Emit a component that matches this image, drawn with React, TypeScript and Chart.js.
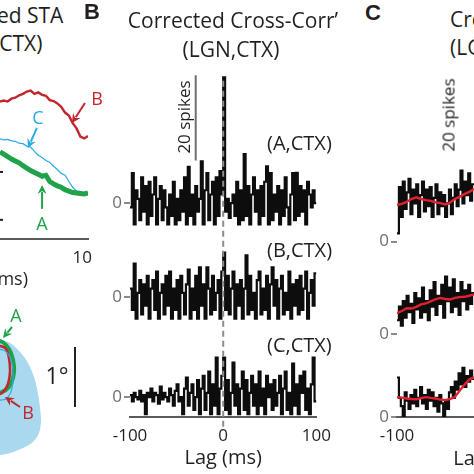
import React, { useEffect, useRef } from "react";
import { Chart, registerables } from "chart.js";

Chart.register(...registerables);

const FONT = '"Open Sans", "Noto Sans", sans-serif';
const BOLD_FONT = '"Liberation Sans", Arial, sans-serif';
const INK = "#231f20";
const GREY = "#6d6e71";
const RED_B = "#c1272d";
const BLUE_C = "#29abe2";
const GREEN_A = "#1fa24a";
const RED_FIT = "#e5202e";
const RF_FILL = "#a9d8ef";
const TRACE = "#0d0d0d";

// ---------- Panel A: spike-triggered averages ----------
const STA_TIME = [5.7, 5.9, 6.1, 6.3, 6.5, 6.7, 6.9, 7.1, 7.3, 7.5, 7.7, 7.9, 8.1, 8.3, 8.5, 8.7, 8.9, 9.1, 9.3, 9.5, 9.7, 9.9, 10.1, 10.3];
const STA_B = [2.47, 2.49, 2.47, 2.53, 2.55, 2.6, 2.63, 2.68, 2.7, 2.63, 2.66, 2.61, 2.59, 2.5, 2.48, 2.43, 2.36, 2.24, 2.18, 2.02, 1.91, 1.74, 1.7, 1.75];
const STA_C = [1.69, 1.67, 1.68, 1.65, 1.64, 1.6, 1.59, 1.54, 1.52, 1.43, 1.35, 1.3, 1.24, 1.2, 1.12, 1.05, 0.97, 0.93, 0.8, 0.68, 0.6, 0.59, 0.54, 0.57];
const STA_A = [1.42, 1.37, 1.32, 1.27, 1.23, 1.19, 1.13, 1.08, 1.03, 0.99, 0.95, 0.91, 0.93, 0.8, 0.75, 0.71, 0.68, 0.63, 0.6, 0.57, 0.56, 0.55, 0.54, 0.56];
const STA_X_TICKS = [10];
const STA_Y_TICKS = [0, 1];

// ---------- Panel A: receptive field outlines (degrees) ----------
const RF_FIELD = [[-0.5, 2.3], [0, 2.233], [0.167, 2.183], [0.333, 2.033], [0.467, 1.85], [0.583, 1.567], [0.65, 1.233], [0.683, 0.9], [0.65, 0.683], [0.55, 0.533], [0.383, 0.433], [0.167, 0.35], [0, 0.317], [-0.5, 0.283]];
const RF_A = [[-0.25, 2.217], [0, 2.217], [0.1, 2.15], [0.183, 2.017], [0.233, 1.8], [0.217, 1.6], [0.15, 1.45], [0.033, 1.367], [-0.167, 1.333], [-0.417, 1.483], [-0.5, 1.8], [-0.417, 2.1]];
const RF_B = [[-0.167, 2.133], [0, 2.133], [0.1, 2.083], [0.15, 1.933], [0.167, 1.7], [0.133, 1.5], [0.067, 1.383], [0, 1.333], [-0.167, 1.333], [-0.367, 1.483], [-0.417, 1.8], [-0.333, 2.067]];
const RF_C = [[-0.167, 2.083], [0.05, 2.067], [0.167, 1.95], [0.217, 1.7], [0.2, 1.433], [0.133, 1.283], [0.033, 1.233], [-0.167, 1.267], [-0.367, 1.433], [-0.417, 1.733], [-0.333, 2.0]];
const RF_SCALE_DEG = 1;

// ---------- Panel B: corrected cross-correlograms (2 ms bins) ----------
const LAG_B = [
  -99, -97, -95, -93, -91, -89, -87, -85, -83, -81, -79, -77, -75, -73, -71, -69, -67, -65, -63, -61,
  -59, -57, -55, -53, -51, -49, -47, -45, -43, -41, -39, -37, -35, -33, -31, -29, -27, -25, -23, -21,
  -19, -17, -15, -13, -11, -9, -7, -5, -3, -1, 1, 3, 5, 7, 9, 11, 13, 15, 17, 19,
  21, 23, 25, 27, 29, 31, 33, 35, 37, 39, 41, 43, 45, 47, 49, 51, 53, 55, 57, 59,
  61, 63, 65, 67, 69, 71, 73, 75, 77, 79, 81, 83, 85, 87, 89, 91, 93, 95, 97, 99,
];
const XCORR_A = [
  -1, 7, -5, 3, 1, -4, 6, -2, 4, -5, 5, -3, 2, 6, -5, 1, 4, -4, 3, -1,
  -5, 2, -3, 5, -5, 1, -4, 3, -2, 6, -5, 8.5, -3, 2, -5, 4, -2, 1, 9.8, -5,
  3, 7, -4, 2, 5, -5, 6, -3, 7.5, 2, 29.5, -2, 1, -3.5, 0, 2, -3, 5, -5, 3,
  -4, 11.5, -3, 4, -5, 2, 6, -2, 3, -5, 4, -3, 5, 8.6, -5, 7, -4, 2, -2, 4,
  -5, 3, -3, 6, -1, -5, 2, 7, -4, 7.1, -3, 4, -2, 3, -5, 5, 2, -1, 3, 0,
];
const XCORR_B = [
  2, -3, 7.9, -5, 1, 4, -4, 3, -2, 5, -5, 2, 4, -3, 6, -5, 1, 3, -4, 5,
  -2, 6, -5, 2, -3, 4, -5, 5, 1, -4, 3, 6.5, -5, 2, -3, 5, -5, 7, -2, 3,
  -5, 7, 2, -4, 5, -3, 1, 4, -5, 6, 10.5, -3, 5, -4, 2, 6, -5, 3, -2, 4,
  -5, 2, 9.8, -4, 5, -3, 1, -5, 4, 6, -4, 2, -3, 5, -5, 3, 7, -2, 4, -5,
  2, 5, -4, 1, -3, 6, -5, 3, -2, 4, -4, 5, -3, 2, 6, -5, 1, 4, -2, 5.6,
];
const XCORR_C = [
  0.5, -1, 1, 0, -0.5, 1.5, -1, 0.5, -4, 1, 0, 2, -1, 1, 0.5, -1.5, 2.5, -0.5, 1, 0,
  -1, 2, 0.5, -2, 1.5, 3, -1, 0, -4, 2, 4.6, -2, 1, 3, -3, 0, 4, -4, 2, 5,
  -3, 1, 6, -4, 3, -2, 9.3, -4, 2, 5, 9.3, -3, 4, -4, 1, 8.1, -2, 3, -4, 2,
  6, -3, 4, -4, 1, 5, -2, 3, -4, 6, -2, 2, -4, 5, 0, 3, -3, 4, -2, 1,
  5, -4, 2, 6, -3, 1, -4, 7.9, -2, 3, -4, 5, 1, 6, -3, 2, -4, 3, 9.3, -1,
];
const LAG_TICKS = [-100, 0, 100];
const SCALE_SPIKES = 20;

// ---------- Panel C: raw cross-correlograms with smoothed fits ----------
const LAG_C = [
  -99, -97, -95, -93, -91, -89, -87, -85, -83, -81, -79, -77, -75, -73, -71, -69, -67, -65, -63, -61,
  -59, -57, -55, -53, -51, -49, -47, -45, -43, -41, -39, -37, -35, -33, -31, -29, -27, -25, -23, -21,
];
const RAW_A = [3, 20, 9, 22, 12, 18, 23, 10, 19, 14, 21, 9, 17, 22, 11, 19, 13, 20, 9, 16, 21, 10, 18, 13, 17, 9, 14, 19, 10, 16, 21, 13, 19, 26, 14, 22, 17, 25, 15, 21];
const RAW_B = [5, 10, 3, 12, 6, 14, 8, 11, 4, 15, 9, 13, 6, 17, 8, 12, 5, 16, 10, 19, 7, 14, 11, 18, 6, 21, 12, 17, 8, 20, 10, 15, 7, 19, 12, 16, 9, 18, 11, 15];
const RAW_C = [14.5, 7, 4, 0, 9, 6, 3, 8, 5, 10, 4, 7, 11, 5, 8, 3, 10, 6, 9, 4, 7, 2, 8, 5, 0, 6, 3, 9, 11, 7, 13, 10, 16, 12, 18, 11, 15, 13, 17, 14];
const FIT_LAG = [-100, -95, -90, -85, -80, -75, -70, -65, -60, -55, -50, -45, -40, -35, -30, -25, -20];
const FIT_A = [13.5, 13.8, 14.5, 15.6, 16.2, 15.6, 15.2, 14.9, 14.4, 14.1, 13.6, 14.2, 15.6, 16.4, 17.4, 18.2, 19.2];
const FIT_B = [7.6, 8.4, 9.4, 9.3, 9.9, 10.8, 11.2, 11.9, 12.7, 13.2, 12.8, 12.6, 13.2, 13.5, 13.6, 14.0, 14.5];
const FIT_C = [7.3, 7.1, 6.8, 6.6, 6.5, 6.9, 7.3, 7.0, 6.8, 6.4, 6.2, 6.6, 7.3, 9.6, 11.8, 13.8, 14.5];

// vertical layout of the stacked correlogram rows (in spikes)
const B_ROW_ZERO = { A: 50.2, B: 28.1, C: 4.65 };
const B_Y_MAX = 80.9;
const C_ROW_ZERO = { A: 64.4, B: 30.5, C: 0 };
const C_Y_MAX = 93.5;

type Pt = { x: number; y: number };

const histogram = (lags: number[], vals: number[], offset: number, left: number, right: number): Pt[] => [
  { x: left, y: vals[0] + offset },
  ...vals.map((v, i) => ({ x: lags[i], y: v + offset })),
  { x: right, y: vals[vals.length - 1] + offset },
];
const series = (xs: number[], ys: number[], offset = 0): Pt[] => ys.map((v, i) => ({ x: xs[i], y: v + offset }));
const closed = (pts: number[][]): Pt[] => [...pts, pts[0]].map(([x, y]) => ({ x, y }));

const line = (data: Pt[], color: string, width: number, extra: any = {}) => ({
  data,
  showLine: true,
  borderColor: color,
  backgroundColor: color,
  borderWidth: width,
  pointRadius: 0,
  fill: false,
  tension: 0,
  ...extra,
});

type Arrow = { from: [number, number]; to: [number, number]; color: string };
const arrowPlugin = (arrows: Arrow[]) => ({
  id: "arrows",
  afterDatasetsDraw(chart: any) {
    const { ctx, scales } = chart;
    const sx = scales.x;
    const sy = scales.y;
    ctx.save();
    for (const a of arrows) {
      const x0 = sx.getPixelForValue(a.from[0]);
      const y0 = sy.getPixelForValue(a.from[1]);
      const x1 = sx.getPixelForValue(a.to[0]);
      const y1 = sy.getPixelForValue(a.to[1]);
      const ang = Math.atan2(y1 - y0, x1 - x0);
      const head = 9;
      const half = 4.5;
      const bx = x1 - head * Math.cos(ang);
      const by = y1 - head * Math.sin(ang);
      ctx.strokeStyle = a.color;
      ctx.fillStyle = a.color;
      ctx.lineWidth = 2;
      ctx.beginPath();
      ctx.moveTo(x0, y0);
      ctx.lineTo(bx + 2 * Math.cos(ang), by + 2 * Math.sin(ang));
      ctx.stroke();
      ctx.beginPath();
      ctx.moveTo(x1, y1);
      ctx.lineTo(bx + half * Math.sin(ang), by - half * Math.cos(ang));
      ctx.lineTo(bx + 3 * Math.cos(ang), by + 3 * Math.sin(ang));
      ctx.lineTo(bx - half * Math.sin(ang), by + half * Math.cos(ang));
      ctx.closePath();
      ctx.fill();
    }
    ctx.restore();
  },
});

// short inward tick marks on the left edge of the STA axes
const leftTickPlugin = (values: number[]) => ({
  id: "leftTicks",
  afterDraw(chart: any) {
    const { ctx, chartArea, scales } = chart;
    ctx.save();
    ctx.strokeStyle = INK;
    ctx.lineWidth = 2;
    for (const v of values) {
      const y = scales.y.getPixelForValue(v);
      ctx.beginPath();
      ctx.moveTo(chartArea.left, y);
      ctx.lineTo(chartArea.left + 3, y);
      ctx.stroke();
    }
    ctx.restore();
  },
});

const baseOptions = (padding: any) => ({
  animation: false,
  responsive: false,
  devicePixelRatio: 1,
  events: [],
  layout: { padding },
  plugins: { legend: { display: false }, tooltip: { enabled: false } },
});

const fixedTicks = (values: number[]) => (scale: any) => {
  scale.ticks = values.map((value) => ({ value }));
};

const lagAxis = (min: number, max: number, title: boolean) => ({
  type: "linear",
  min,
  max,
  afterFit: (s: any) => {
    s.height = 57;
  },
  afterBuildTicks: fixedTicks(LAG_TICKS.filter((v) => v >= min && v <= max)),
  grid: { display: false, drawTicks: false },
  border: { display: true, color: "#58595b", width: 2 },
  ticks: { font: { family: FONT, size: 17 }, color: INK, padding: 9, autoSkip: false, maxRotation: 0 },
  title: {
    display: title,
    text: "Lag (ms)",
    font: { family: FONT, size: 20 },
    color: INK,
    padding: { top: 0, bottom: 4 },
  },
});

const zeroAxis = (max: number, zeros: number[], width: number) => ({
  type: "linear",
  min: 0,
  max,
  afterFit: (s: any) => {
    s.width = width;
  },
  afterBuildTicks: fixedTicks(zeros),
  ticks: { callback: () => "0", font: { family: FONT, size: 17 }, color: GREY, padding: 2, autoSkip: false },
  grid: { drawOnChartArea: false, drawTicks: true, tickLength: 6, color: "#8a8a8a", lineWidth: 2 },
  border: { display: false },
});

const staConfig = () => ({
  type: "scatter",
  data: {
    datasets: [
      line(series(STA_TIME, STA_B), RED_B, 2.4),
      line(series(STA_TIME, STA_A), GREEN_A, 5),
      line(series(STA_TIME, STA_C), BLUE_C, 1.2),
    ],
  },
  options: {
    ...baseOptions({ left: 0, right: 22, top: 20, bottom: 0 }),
    scales: {
      x: {
        type: "linear",
        min: 5.7,
        max: 10.3,
        afterFit: (s: any) => {
          s.height = 51;
        },
        afterBuildTicks: fixedTicks(STA_X_TICKS),
        grid: { display: false, drawTicks: false },
        border: { display: true, color: "#58595b", width: 2 },
        ticks: { font: { family: FONT, size: 17 }, color: INK, padding: 9 },
      },
      y: { type: "linear", min: -0.4, max: 2.92, display: false },
    },
  },
  plugins: [
    arrowPlugin([
      { from: [10.14, 2.44], to: [9.46, 2.02], color: RED_B },
      { from: [7.63, 1.92], to: [7.16, 1.5], color: BLUE_C },
      { from: [7.9, 0.23], to: [7.9, 0.73], color: GREEN_A },
    ]),
    leftTickPlugin(STA_Y_TICKS),
  ],
});

const rfConfig = () => ({
  type: "scatter",
  data: {
    datasets: [
      line([{ x: 1.25, y: 1.117 }, { x: 1.25, y: 1.117 + RF_SCALE_DEG }], INK, 2),
      line(closed(RF_C), BLUE_C, 1.2, { tension: 0.35 }),
      line(closed(RF_B), RED_B, 2.6, { tension: 0.35 }),
      line(closed(RF_A), GREEN_A, 4, { tension: 0.35 }),
      line(closed(RF_FIELD), RF_FILL, 0, { tension: 0.3, fill: "shape", backgroundColor: RF_FILL }),
    ],
  },
  options: {
    ...baseOptions(0),
    scales: {
      x: { type: "linear", min: 0, max: 110 / 60, display: false },
      y: { type: "linear", min: 0, max: 184 / 60, display: false },
    },
  },
  plugins: [
    arrowPlugin([
      { from: [0.2, 2.45], to: [0.05, 2.267], color: GREEN_A },
      { from: [0.333, 1.117], to: [0.083, 1.283], color: RED_B },
    ]),
  ],
});

const xcorrConfig = () => ({
  type: "scatter",
  data: {
    datasets: [
      line([{ x: 0, y: -2.3 }, { x: 0, y: 79.8 }], "#8c8c8c", 2, { borderDash: [6, 4], clip: false }),
      line([{ x: -29.5, y: 60.2 }, { x: -29.5, y: 60.2 + SCALE_SPIKES }], GREY, 2),
      line(histogram(LAG_B, XCORR_A, B_ROW_ZERO.A, -100, 100), TRACE, 2.2, { stepped: "middle" }),
      line(histogram(LAG_B, XCORR_B, B_ROW_ZERO.B, -100, 100), TRACE, 2.2, { stepped: "middle" }),
      line(histogram(LAG_B, XCORR_C, B_ROW_ZERO.C, -100, 100), TRACE, 2.2, { stepped: "middle" }),
    ],
  },
  options: {
    ...baseOptions({ left: 0, right: 20, top: 10, bottom: 0 }),
    scales: {
      x: lagAxis(-100, 100, true),
      y: zeroAxis(B_Y_MAX, [B_ROW_ZERO.C, B_ROW_ZERO.B, B_ROW_ZERO.A], 30),
    },
  },
});

const rawConfig = () => ({
  type: "scatter",
  data: {
    datasets: [
      line(series(FIT_LAG, FIT_A, C_ROW_ZERO.A), RED_FIT, 2.4, { order: 0 }),
      line(series(FIT_LAG, FIT_B, C_ROW_ZERO.B), RED_FIT, 2.4, { order: 0 }),
      line(series(FIT_LAG, FIT_C, C_ROW_ZERO.C), RED_FIT, 2.4, { order: 0 }),
      line([{ x: -28.3, y: 100 }, { x: -28.3, y: 100 + SCALE_SPIKES }], GREY, 2, { clip: false, order: 1 }),
      line(histogram(LAG_C, RAW_A, C_ROW_ZERO.A, -100, -20), TRACE, 2.2, { stepped: "middle", order: 1 }),
      line(histogram(LAG_C, RAW_B, C_ROW_ZERO.B, -100, -20), TRACE, 2.2, { stepped: "middle", order: 1 }),
      line(histogram(LAG_C, RAW_C, C_ROW_ZERO.C, -100, -20), TRACE, 2.2, { stepped: "middle", order: 1 }),
    ],
  },
  options: {
    ...baseOptions({ left: 0, right: 0, top: 10, bottom: 0 }),
    scales: {
      x: lagAxis(-100, -20, false),
      y: zeroAxis(C_Y_MAX, [C_ROW_ZERO.C, C_ROW_ZERO.B, C_ROW_ZERO.A], 57),
    },
  },
});

function ChartCanvas({ left, top, width, height, build }: { left: number; top: number; width: number; height: number; build: () => any }) {
  const ref = useRef<HTMLCanvasElement>(null);
  useEffect(() => {
    const chart = new Chart(ref.current as HTMLCanvasElement, build());
    return () => chart.destroy();
  }, []);
  return <canvas ref={ref} width={width} height={height} style={{ position: "absolute", left, top, width, height }} />;
}

type LabelProps = {
  x: number;
  y: number;
  text: string;
  size: number;
  color?: string;
  bold?: boolean;
  align?: "left" | "center" | "right";
  rotate?: number;
};

function Label({ x, y, text, size, color = INK, bold = false, align = "center", rotate = 0 }: LabelProps) {
  const tx = align === "center" ? "-50%" : align === "right" ? "-100%" : "0%";
  return (
    <div
      style={{
        position: "absolute",
        left: x,
        top: y,
        transform: `translate(${tx}, -50%) rotate(${rotate}deg)`,
        fontFamily: bold ? BOLD_FONT : FONT,
        fontWeight: bold ? 700 : 400,
        fontSize: size,
        lineHeight: 1,
        color,
        whiteSpace: "nowrap",
      }}
    >
      {text}
    </div>
  );
}

export default function App() {
  return (
    <div style={{ position: "fixed", left: 0, top: 0, width: 474, height: 474, overflow: "hidden", background: "#fff" }}>
      {/* Panel A */}
      <ChartCanvas left={0} top={60} width={110} height={230} build={staConfig} />
      <ChartCanvas left={0} top={290} width={110} height={184} build={rfConfig} />
      <Label x={-6} y={15} text="Corrected STA" size={21} />
      <Label x={-6} y={43} text="(LGN,CTX)" size={21} />
      <Label x={28} y={278} text="Time (ms)" size={18} align="right" />
      <Label x={97} y={98} text="B" size={18} color={RED_B} />
      <Label x={38} y={117} text="C" size={18} color={BLUE_C} />
      <Label x={42} y={223} text="A" size={18} color={GREEN_A} />
      <Label x={16} y={315} text="A" size={18} color={GREEN_A} />
      <Label x={28} y={412} text="B" size={18} color={RED_B} />
      <Label x={57} y={375} text="1°" size={23} />

      {/* Panel B */}
      <ChartCanvas left={100} top={60} width={240} height={414} build={xcorrConfig} />
      <Label x={92} y={12} text="B" size={22} bold />
      <Label x={233} y={20} text="Corrected Cross-Corr’" size={21} />
      <Label x={231} y={49} text="(LGN,CTX)" size={21} />
      <Label x={183} y={117} text="20 spikes" size={17} rotate={-90} />
      <Label x={267} y={143} text="(A,CTX)" size={20} align="left" />
      <Label x={267} y={250} text="(B,CTX)" size={20} align="left" />
      <Label x={267} y={345} text="(C,CTX)" size={20} align="left" />

      {/* Panel C */}
      <ChartCanvas left={340} top={150} width={134} height={324} build={rawConfig} />
      <Label x={373} y={13} text="C" size={22} bold />
      <Label x={450} y={19} text="Cross-Corr’" size={21} align="left" />
      <Label x={450} y={47} text="(LGN,CTX)" size={21} align="left" />
      <Label x={448} y={115} text="20 spikes" size={17} rotate={-90} />
      <Label x={492} y={458} text="Lag (ms)" size={20} />
    </div>
  );
}
